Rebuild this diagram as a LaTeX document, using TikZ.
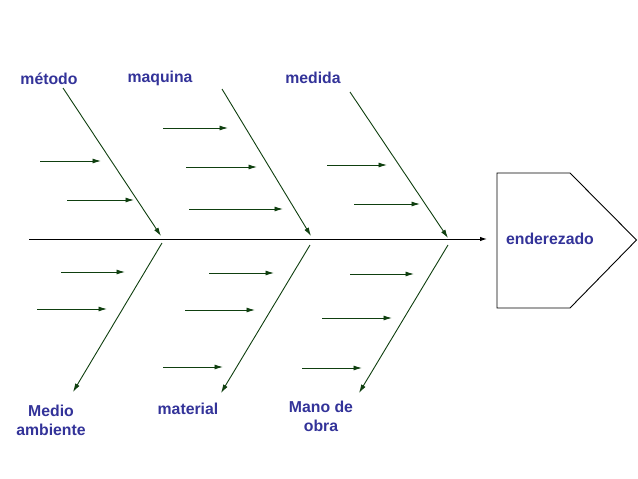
\documentclass[tikz,border=0pt]{standalone}
\usepackage{fontspec}
\setmainfont{Liberation Sans}
\usetikzlibrary{arrows.meta}
\definecolor{ishnavy}{HTML}{333399}
\definecolor{ishgreen}{HTML}{0F3F0F}
\tikzset{
  causa/.style={font=\bfseries\fontsize{15.8}{19}\selectfont, text=ishnavy,
                align=center, inner sep=0pt},
  espina/.style={draw=ishgreen, line width=0.9pt, -{Latex[length=8.5pt,width=5pt]}},
  sub/.style={draw=ishgreen, line width=0.9pt, -{Latex[length=8.5pt,width=5pt]}},
  eje/.style={draw=black, line width=1pt, -{Latex[length=7pt,width=4.5pt]}},
  efectobox/.style={draw=black, line width=0.9pt}
}
\begin{document}
\begin{tikzpicture}[x=1pt,y=-1pt]
    \useasboundingbox (0,0) rectangle (638,479);
    % eje central
    \coordinate (cola) at (29,239);
    \coordinate (punta) at (487,239);
    \draw[eje] (cola) -- (punta);
    % cabeza (efecto)
    \draw[efectobox] (497,173) -- (570,173) -- (636.5,240) -- (570,308) -- (497,308) -- cycle;
    \node[causa, anchor=base] (efecto) at (550,244) {enderezado};
    % espinas principales
    \foreach \n/\xa/\ya/\xb/\yb in {met/63/88/161/236, maq/222/89/311/236, med/350/92/448/238,
                                    amb/162/243/73/392, mat/310/245/221/393, mdo/448/245/359/393} {
      \coordinate (\n-ini) at (\xa,\ya);
      \coordinate (\n-fin) at (\xb,\yb);
      \draw[espina] (\n-ini) -- (\n-fin);
    }
    % causas secundarias
    \foreach \n/\xa/\xb/\y in {s1/40/101/161, s2/67/134/200, s3/163/228/128, s4/186/257/167,
                               s5/189/283/209, s6/327/387/165, s7/354/420/204,
                               s8/61/125/272, s9/37/107/309, s10/209/274/273, s11/185/255/310,
                               s12/163/223/367, s13/350/414/274, s14/322/392/318, s15/302/362/368} {
      \coordinate (\n-a) at (\xa,\y);
      \coordinate (\n-b) at (\xb,\y);
      \draw[sub] (\n-a) -- (\n-b);
    }
    % rotulos
    \node[causa, anchor=base] (metodo) at (49,84) {método};
    \node[causa, anchor=base] (maquina) at (160,82) {maquina};
    \node[causa, anchor=base] (medida) at (313,83) {medida};
    \node[causa, anchor=base] (medio) at (51,435) {Medio\\ambiente};
    \node[causa, anchor=base] (material) at (188,414) {material};
    \node[causa, anchor=base] (manoobra) at (321,431) {Mano de\\obra};
\end{tikzpicture}
\end{document}
